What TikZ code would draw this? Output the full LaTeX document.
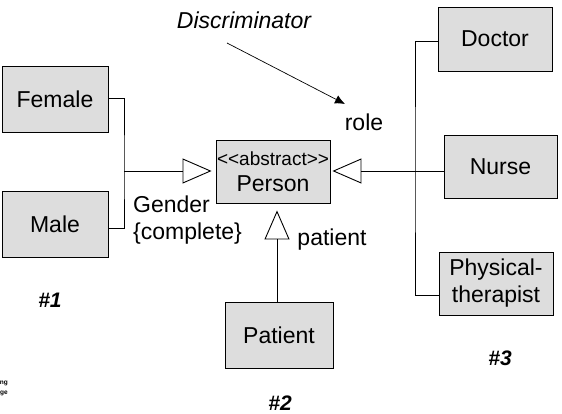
\documentclass[tikz,border=0pt]{standalone}
\usepackage{fontspec}
\setmainfont{Liberation Sans}
\usetikzlibrary{arrows.meta}
\definecolor{boxgray}{RGB}{221,221,221}
\tikzset{
  cls/.style={draw=black, fill=boxgray, line width=0.9pt, inner sep=0pt, font=\fontsize{23}{27}\selectfont, align=center},
  lbl/.style={inner sep=0pt, font=\fontsize{23}{27}\selectfont},
  num/.style={inner sep=0pt, font=\fontsize{21}{25}\selectfont\bfseries\itshape},
  conn/.style={line width=0.9pt},
  gen/.style={conn, -{Triangle[open, length=29pt, width=25pt, line width=0.9pt]}},
}
\begin{document}
\begin{tikzpicture}[x=1pt, y=-1pt]
\useasboundingbox (0,0) rectangle (562,414);
% classes
\node[cls, minimum width=106pt, minimum height=66pt] (female) at (55,99) {Female};
\node[cls, minimum width=106pt, minimum height=66pt] (male) at (55,224) {Male};
\node[cls, minimum width=114pt, minimum height=63pt] (person) at (273,171.5) {{\fontsize{19}{21}\selectfont {<}{<}abstract{>}{>}}\\[-1pt]Person};
\node[cls, minimum width=108pt, minimum height=66pt] (patient) at (279,335) {Patient};
\node[cls, minimum width=114pt, minimum height=64pt] (doctor) at (495,39) {Doctor};
\node[cls, minimum width=113pt, minimum height=63pt] (nurse) at (500.5,166.5) {Nurse};
\node[cls, minimum width=114pt, minimum height=63pt] (pt) at (496,283.5) {Physical-\\therapist};
% labels
\node[lbl, font=\fontsize{23}{27}\selectfont\itshape] (disc) at (244,20) {Discriminator};
\node[lbl] (role) at (364,122) {role};
\node[lbl, anchor=base west] (gender) at (133,212) {Gender};
\node[lbl, anchor=base west] (complete) at (133,239) {\{complete\}};
\node[lbl] (patlbl) at (332,240) {patient};
\node[num] (n1) at (50,300) {\#1};
\node[num] (n2) at (280,403) {\#2};
\node[num] (n3) at (500,358) {\#3};
\node[inner sep=0pt, anchor=east, font=\fontsize{6.5}{7}\selectfont\bfseries] (frag1) at (8,383) {ng};
\node[inner sep=0pt, anchor=east, font=\fontsize{6.5}{7}\selectfont\bfseries] (frag2) at (8,393) {ge};
% coordinates
\coordinate (lj) at (124,171);
\coordinate (rj) at (415,171);
\coordinate (ds) at (227,43);
\coordinate (de) at (345,104);
% gender set
\draw[conn] (female.east |- 0,98) -| (lj) |- (male.east |- 0,228);
\draw[gen, shorten >=4pt] (lj) -- (person.west |- lj);
% role set
\draw[conn] (doctor.west |- 0,41) -| (rj) |- (pt.west |- 0,295);
\draw[conn] (nurse.west |- rj) -- (rj);
\draw[gen, shorten >=2pt] (rj) -- (person.east |- rj);
% patient
\draw[gen, shorten >=7pt] (patient.north -| 277,0) -- (person.south -| 277,0);
% discriminator arrow
\draw[line width=0.7pt, -{Latex[length=10pt, width=9pt]}] (ds) -- (de);
\end{tikzpicture}
\end{document}
